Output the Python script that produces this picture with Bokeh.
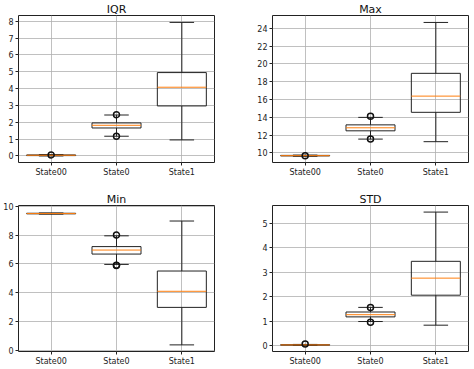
from bokeh.plotting import figure
from bokeh.layouts import gridplot
from bokeh.models import ColumnDataSource, Range1d, FactorRange, FixedTicker
from bokeh.transform import dodge
from bokeh.embed import file_html
from bokeh.resources import INLINE

categories = ["State00", "State0", "State1"]

# IQR panel
iqr_lower = [0.00, 1.17, 0.95]
iqr_q1 = [0.02, 1.66, 2.97]
iqr_median = [0.04, 1.82, 4.08]
iqr_q3 = [0.06, 1.96, 4.95]
iqr_upper = [0.08, 2.43, 7.93]
iqr_out_cat = ["State00", "State0", "State0"]
iqr_out_val = [0.06, 2.45, 1.17]
iqr_ticks = [0, 1, 2, 3, 4, 5, 6, 7, 8]

# Max panel
max_lower = [9.63, 11.56, 11.27]
max_q1 = [9.67, 12.49, 14.57]
max_median = [9.70, 12.83, 16.39]
max_q3 = [9.73, 13.16, 18.95]
max_upper = [9.76, 14.00, 24.67]
max_out_cat = ["State00", "State0", "State0"]
max_out_val = [9.70, 14.12, 11.56]
max_ticks = [10, 12, 14, 16, 18, 20, 22, 24]

# Min panel
min_lower = [9.46, 5.96, 0.36]
min_q1 = [9.48, 6.68, 2.97]
min_median = [9.50, 6.96, 4.09]
min_q3 = [9.52, 7.20, 5.50]
min_upper = [9.54, 7.95, 8.98]
min_out_cat = ["State0", "State0", "State0"]
min_out_val = [8.00, 5.91, 5.88]
min_ticks = [0, 2, 4, 6, 8, 10]

# STD panel
std_lower = [0.00, 0.98, 0.83]
std_q1 = [0.01, 1.17, 2.06]
std_median = [0.02, 1.26, 2.76]
std_q3 = [0.03, 1.37, 3.45]
std_upper = [0.04, 1.56, 5.47]
std_out_cat = ["State00", "State0", "State0"]
std_out_val = [0.06, 1.56, 0.95]
std_ticks = [0, 1, 2, 3, 4, 5]

FONT = "DejaVu Sans"


def panel(title, lower, q1, med, q3, upper, out_cat, out_val, ticks, yr,
          width, height, bl, br, bt, bb):
    p = figure(x_range=FactorRange(*categories, range_padding=0),
               y_range=Range1d(*yr), width=width, height=height,
               output_backend="svg", toolbar_location=None, tools="",
               min_border_left=bl, min_border_right=br,
               min_border_top=bt, min_border_bottom=bb)
    p.title.text = title
    p.title.align = "center"
    p.title.text_font = FONT
    p.title.text_font_size = "11px"
    p.title.text_font_style = "normal"
    p.title.text_color = "#111111"
    p.title.standoff = 0
    p.background_fill_color = "white"
    p.border_fill_color = "white"
    p.outline_line_color = "#222222"
    p.outline_line_width = 1
    for ax in (p.xaxis, p.yaxis):
        ax.axis_line_color = None
        ax.major_tick_line_color = "#222222"
        ax.major_tick_out = 3
        ax.major_tick_in = 0
        ax.minor_tick_line_color = None
        ax.major_label_text_font = FONT
        ax.major_label_text_font_size = "8px"
        ax.major_label_text_color = "#222222"
        ax.major_label_standoff = 2
    p.yaxis.ticker = FixedTicker(ticks=ticks)
    p.xgrid.grid_line_color = "#b0b0b0"
    p.ygrid.grid_line_color = "#b0b0b0"
    p.xgrid.grid_line_width = 0.8
    p.ygrid.grid_line_width = 0.8

    src = ColumnDataSource(dict(cat=categories, lower=lower, q1=q1, med=med,
                                q3=q3, upper=upper))
    p.vbar(x="cat", width=0.75, top="q3", bottom="q1", source=src,
           fill_color=None, line_color="#222222", line_width=1)
    p.segment(x0="cat", x1="cat", y0="q3", y1="upper", source=src,
              line_color="#222222", line_width=1)
    p.segment(x0="cat", x1="cat", y0="q1", y1="lower", source=src,
              line_color="#222222", line_width=1)
    p.segment(x0=dodge("cat", -0.1875, range=p.x_range),
              x1=dodge("cat", 0.1875, range=p.x_range),
              y0="upper", y1="upper", source=src, line_color="#222222", line_width=1)
    p.segment(x0=dodge("cat", -0.1875, range=p.x_range),
              x1=dodge("cat", 0.1875, range=p.x_range),
              y0="lower", y1="lower", source=src, line_color="#222222", line_width=1)
    p.segment(x0=dodge("cat", -0.375, range=p.x_range),
              x1=dodge("cat", 0.375, range=p.x_range),
              y0="med", y1="med", source=src, line_color="#ff7f0e", line_width=1)
    osrc = ColumnDataSource(dict(cat=out_cat, val=out_val))
    p.scatter(x="cat", y="val", source=osrc, marker="circle", size=6,
              fill_color=None, line_color="#111111", line_width=1.5)
    return p


p1 = panel("IQR", iqr_lower, iqr_q1, iqr_median, iqr_q3, iqr_upper,
           iqr_out_cat, iqr_out_val, iqr_ticks, (-0.39, 8.34),
           237, 185, 16, 23, 14, 23)
p2 = panel("Max", max_lower, max_q1, max_median, max_q3, max_upper,
           max_out_cat, max_out_val, max_ticks, (8.93, 25.45),
           235, 185, 35, 4, 14, 23)
p3 = panel("Min", min_lower, min_q1, min_median, min_q3, min_upper,
           min_out_cat, min_out_val, min_ticks, (-0.1, 10.06),
           237, 183, 16, 23, 20, 15)
p4 = panel("STD", std_lower, std_q1, std_median, std_q3, std_upper,
           std_out_cat, std_out_val, std_ticks, (-0.25, 5.74),
           235, 183, 35, 4, 20, 15)

grid = gridplot([[p1, p2], [p3, p4]], toolbar_location=None)

open("out.html", "w").write(file_html(grid, INLINE))
